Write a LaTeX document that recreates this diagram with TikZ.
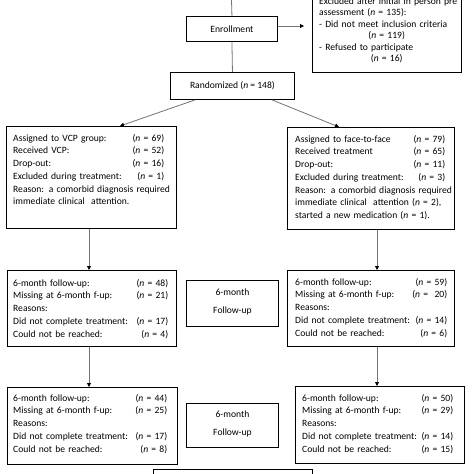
\documentclass[tikz,border=0pt]{standalone}
\usepackage{fontspec}
\setmainfont{Carlito}
\usetikzlibrary{arrows.meta,calc}
\newcommand\nn{\textit{n}}
\newlength\lrw
\setlength\lrw{150pt}
\newcommand\lr[2]{\makebox[\lrw][l]{#1\hfill#2}}
\newcommand\ctr[1]{\makebox[\lrw][c]{#1}}
\tikzset{
  box/.style={draw=black, line width=0.9pt, inner sep=0pt, anchor=north west, font=\fontsize{9.6}{11}\selectfont},
  txt/.style={anchor=north west, inner sep=0pt, align=left, text width=172pt, font=\fontsize{9.6}{12.75}\selectfont},
  mid/.style={inner sep=0pt, align=center, font=\fontsize{9.6}{18}\selectfont},
  conn/.style={draw=black!55, line width=0.8pt},
  arr/.style={conn, -{Triangle[black,length=4pt,width=4pt]}},
}
\begin{document}
\begin{tikzpicture}[x=1pt,y=-1pt]
\useasboundingbox (0,0) rectangle (474,474);
\clip (0,0) rectangle (474,474);
% top
\coordinate (top) at (231.5,0);
\node[box, minimum width=91pt, minimum height=25pt] (enr) at (186,16) {Enrollment};
\node[box, minimum width=149pt, minimum height=112pt] (exc) at (312,-40) {};
\node[txt, font=\fontsize{9.6}{11.5}\selectfont] (exct) at (319,-2.5) {\setlength\lrw{135pt}Excluded after initial in person pre\\
assessment (\nn{} = 135):\\
- Did not meet inclusion criteria\\
\ctr{(\nn{} = 119)}\\
- Refused to participate\\
\ctr{(\nn{} = 16)}};
\coordinate (excarr) at (304,26);
\node[box, minimum width=124pt, minimum height=27pt] (rand) at (170,72) {Randomized (\nn{} = 148)};
% first row
\node[box, minimum width=170pt, minimum height=102pt] (vcp) at (6,126) {};
\node[txt] (vcpt) at (13,134) {\setlength\lrw{151pt}\lr{Assigned to VCP group:}{(\nn{} = 69)}\\
\lr{Received VCP:}{(\nn{} = 52)}\\
\lr{Drop-out:}{(\nn{} = 16)}\\
\lr{Excluded during treatment:}{(\nn{} = 1)}\\
Reason: a comorbid diagnosis required\\
immediate clinical\ \ attention.};
\node[box, minimum width=167pt, minimum height=102pt] (ftf) at (287,127) {};
\node[txt] (ftft) at (295,135) {\setlength\lrw{150pt}\lr{Assigned to face-to-face}{(\nn{} = 79)}\\
\lr{Received treatment}{(\nn{} = 65)}\\
\lr{Drop-out:}{(\nn{} = 11)}\\
\lr{Excluded during treatment:}{(\nn{} = 3)}\\
Reason: a comorbid diagnosis required\\
immediate clinical\ \ attention (\nn{} = 2),\\
started a new medication (\nn{} = 1).};
% second row
\node[box, minimum width=169pt, minimum height=76pt] (fal) at (7,270) {};
\node[txt] (falt) at (13,279) {\setlength\lrw{155pt}\lr{6-month follow-up:}{(\nn{} = 48)}\\
\lr{Missing at 6-month f-up:}{(\nn{} = 21)}\\
Reasons:\\
\lr{Did not complete treatment:}{(\nn{} = 17)}\\
\lr{Could not be reached:}{(\nn{} = 4)}};
\node[box, minimum width=92pt, minimum height=46pt] (ma) at (186,280) {};
\node[mid] (mat) at ($(ma.center)+(0,-1.5)$) {6-month\\Follow-up};
\node[box, minimum width=167pt, minimum height=76pt] (far) at (287,270) {};
\node[txt] (fart) at (295,278) {\setlength\lrw{152pt}\lr{6-month follow-up:}{(\nn{} = 59)}\\
\lr{Missing at 6-month f-up:}{(\nn{} =\ \ 20)}\\
Reasons:\\
\lr{Did not complete treatment:}{(\nn{} = 14)}\\
\lr{Could not be reached:}{(\nn{} = 6)}};
% third row
\node[box, minimum width=170pt, minimum height=77pt] (fbl) at (7,387) {};
\node[txt] (fblt) at (13,394) {\setlength\lrw{154pt}\lr{6-month follow-up:}{(\nn{} = 44)}\\
\lr{Missing at 6-month f-up:}{(\nn{} = 25)}\\
Reasons:\\
\lr{Did not complete treatment:}{(\nn{} = 17)}\\
\lr{Could not be reached:}{(\nn{} = 8)}};
\node[box, minimum width=92pt, minimum height=44pt] (mb) at (186,403) {};
\node[mid] (mbt) at ($(mb.center)+(0,-1.5)$) {6-month\\Follow-up};
\node[box, minimum width=169pt, minimum height=77pt] (fbr) at (295,386) {};
\node[txt] (fbrt) at (302,394) {\setlength\lrw{151pt}\lr{6-month follow-up:}{(\nn{} = 50)}\\
\lr{Missing at 6-month f-up:}{(\nn{} = 29)}\\
Reasons:\\
\lr{Did not complete treatment:}{(\nn{} = 14)}\\
\lr{Could not be reached:}{(\nn{} = 15)}};
% bottom (cut off)
\node[box, minimum width=159pt, minimum height=30pt] (bot) at (153,469) {};
% connectors
\draw[conn] (top) -- (enr.north);
\draw[arr] (enr.east |- excarr) -- (excarr);
\draw[conn] (enr.south) -- (rand.north);
\draw[arr] ($(rand.south west)+(25,0)$) -- ($(vcp.north west)+(114,0)$);
\draw[arr] ($(rand.south west)+(102,0)$) -- ($(ftf.north west)+(52,0)$);
\draw[arr] ($(vcp.south west)+(83,0)$) -- ($(fal.north west)+(82,0)$);
\draw[arr] ($(ftf.south west)+(90,0)$) -- ($(far.north west)+(90,0)$);
\draw[arr] ($(fal.south west)+(82,0)$) -- ($(fbl.north west)+(82,0)$);
\draw[arr] ($(far.south west)+(90,0)$) -- ($(fbr.north west)+(82,0)$);
\end{tikzpicture}
\end{document}
